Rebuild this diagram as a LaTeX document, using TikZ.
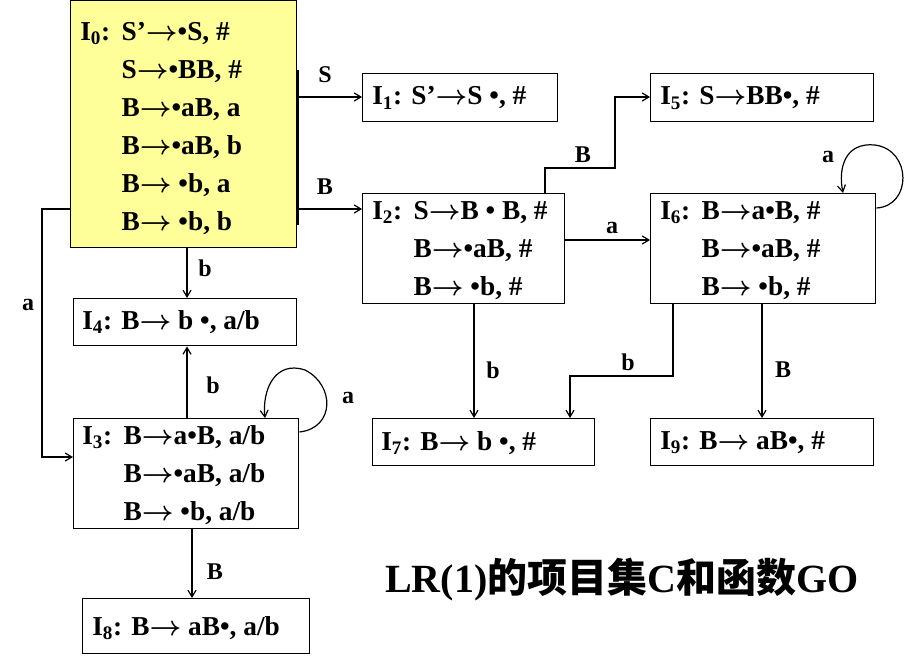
\documentclass[tikz,border=0pt]{standalone}
\usepackage{fontspec}
\setmainfont{Liberation Serif}
\newfontfamily\cjk{Noto Sans CJK SC}
\usetikzlibrary{arrows.meta}
\newcommand\ar{\mbox{\boldmath$\rightarrow$}}
\begin{document}
\begin{tikzpicture}[x=0.75pt,y=-0.75pt,
  box/.style={draw,line width=1.1pt,anchor=north west,inner sep=0pt},
  arr/.style={-{Straight Barb[length=5pt,width=6pt]},line width=0.9pt},
  lab/.style={font=\bfseries\fontsize{18}{20}\selectfont}]
\useasboundingbox (0,0) rectangle (908,667);
\newcommand\mybox[6]{\node[box,minimum width={(#4-#2)*0.75pt},minimum height={(#5-#3)*0.75pt},#6] (#1) at (#2,#3) {};}
\mybox{I0}{70}{0}{296}{247}{fill={rgb,255:red,255;green,255;blue,153}}
\mybox{I1}{362}{73}{557}{121}{}
\mybox{I5}{650}{73}{873}{121}{}
\mybox{I2}{362}{193}{564}{303}{}
\mybox{I6}{650}{193}{875}{303}{}
\mybox{I4}{73}{298}{296}{345}{}
\mybox{I3}{73}{418}{298}{528}{}
\mybox{I7}{372}{418}{594}{465}{}
\mybox{I9}{650}{418}{873}{465}{}
\mybox{I8}{82}{598}{309}{653}{}
\draw[line width=2.5pt] (I0.north east |- 0,70) -- (I0.north east |- 0,225);
\tikzset{txt/.style={anchor=west,inner sep=0pt,font=\bfseries\fontsize{20.5}{28.5}\selectfont,align=left}}
\node[txt] (t0) at (80,128) {\begin{tabular}{@{}l@{\ \,}l@{}}I\textsubscript{0}: & S’\ar•S, \#\\ & S\ar•BB, \#\\ & B\ar•aB, a\\ & B\ar•aB, b\\ & B\ar\ •b, a\\ & B\ar\ •b, b\end{tabular}};
\node[txt] (t1) at (372,98) {I\textsubscript{1}: S’\ar S •, \#};
\node[txt] (t5) at (660,98) {I\textsubscript{5}: S\ar BB•, \#};
\node[txt] (t2) at (372,250) {\begin{tabular}{@{}l@{\ \,}l@{}}I\textsubscript{2}: & S\ar B • B, \#\\ & B\ar•aB, \#\\ & B\ar\ •b, \#\end{tabular}};
\node[txt] (t6) at (660,250) {\begin{tabular}{@{}l@{\ \,}l@{}}I\textsubscript{6}: & B\ar a•B, \#\\ & B\ar•aB, \#\\ & B\ar\ •b, \#\end{tabular}};
\node[txt] (t4) at (82,322) {I\textsubscript{4}: B\ar\ b •, a/b};
\node[txt] (t3) at (82,475) {\begin{tabular}{@{}l@{\ \,}l@{}}I\textsubscript{3}: & B\ar a•B, a/b\\ & B\ar•aB, a/b\\ & B\ar\ •b, a/b\end{tabular}};
\node[txt] (t7) at (381,443) {I\textsubscript{7}: B\ar\ b •, \#};
\node[txt] (t9) at (660,443) {I\textsubscript{9}: B\ar\ aB•, \#};
\node[txt] (t8) at (92,628) {I\textsubscript{8}: B\ar\ aB•, a/b};
% edges
\draw[arr] (I0.east |- 0,97) -- (I1.west |- 0,97);
\node[lab] (lS) at (325,75) {S};
\draw[arr] (I0.east |- 0,209) -- (I2.west |- 0,209);
\node[lab] (lB) at (325,187) {B};
\draw[arr] (I0.south -| 187,0) -- (I4.north -| 187,0);
\node[lab] (lb1) at (205,268) {b};
\draw[arr] (I0.west |- 0,209) -| (42,457) -- (I3.west |- 0,457);
\node[lab] (la1) at (28,305) {a};
\draw[arr] (I3.north -| 187,0) -- (I4.south -| 187,0);
\node[lab] (lb2) at (213,385) {b};
\draw[arr] (I3.east |- 0,432) .. controls (335,428) and (335,385) .. (305,370) .. controls (275,360) and (262,390) .. (I3.north -| 265,0);
\node[lab] (la2) at (348,398) {a};
\draw[arr] (I3.south -| 192,0) -- (I8.north -| 192,0);
\node[lab] (lB2) at (215,572) {B};
\draw[arr] (I2.north -| 545,0) |- (615,168) |- (I5.west |- 0,97);
\node[lab] (lB3) at (583,155) {B};
\draw[arr] (I2.east |- 0,240) -- (I6.west |- 0,240);
\node[lab] (la3) at (612,228) {a};
\draw[arr] (I2.south -| 474,0) -- (I7.north -| 474,0);
\node[lab] (lb3) at (493,370) {b};
\draw[arr] (I6.south -| 673,0) |- (570,376) -- (I7.north -| 570,0);
\node[lab] (lb4) at (628,362) {b};
\draw[arr] (I6.south -| 762,0) -- (I9.north -| 762,0);
\node[lab] (lB4) at (783,370) {B};
\draw[arr] (I6.east |- 0,208) .. controls (912,206) and (912,150) .. (875,145) .. controls (845,142) and (838,168) .. (I6.north -| 843,0);
\node[lab] (la4) at (828,157) {a};
\node[font=\bfseries\fontsize{30}{32}\selectfont,anchor=west,inner sep=0pt] (cap) at (385,580) {LR(1){\cjk 的项目集}C{\cjk 和函数}GO};
\end{tikzpicture}
\end{document}
